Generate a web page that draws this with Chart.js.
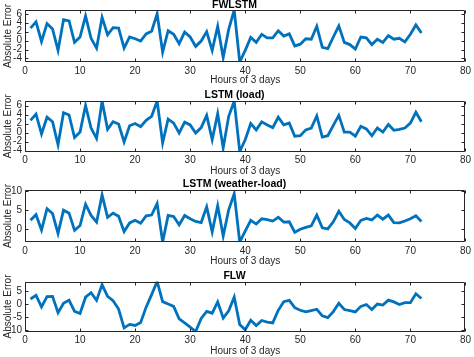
<!DOCTYPE html>
<html><head><meta charset="utf-8">
<script src="https://cdn.jsdelivr.net/npm/chart.js@4/dist/chart.umd.min.js"></script>
<style>
html,body{margin:0;padding:0;background:#fff;}
#wrap{position:relative;width:474px;height:357px;overflow:hidden;}
canvas{position:absolute;left:0;}
</style></head>
<body><div id="wrap">
<canvas id="c1" width="474" height="87" style="top:0px"></canvas>
<canvas id="c2" width="474" height="91" style="top:87px"></canvas>
<canvas id="c3" width="474" height="90" style="top:178px"></canvas>
<canvas id="c4" width="474" height="89" style="top:268px"></canvas>
</div>
<script>
const hours = Array.from({length:72},(_, i)=>i+1);
const titles = ["FWLSTM","LSTM (load)","LSTM (weather-load)","FLW"];
const xLabel = "Hours of 3 days";
const yLabel = "Absolute Error";
const xTicks = [0,10,20,30,40,50,60,70,80];

const fwlstm = [2.8,4.2,-0.2,3.8,2.6,-2.2,4.7,4.4,-0.4,0.8,5.5,0.5,-1.7,5.2,1.3,2.9,2.8,-1.7,0.8,0.4,
  -0.1,1.5,2.1,6.0,-2.6,2.2,1.4,-0.7,1.9,0.8,-1.3,-0.1,2.0,-2.2,3.2,-3.8,2.5,6.85,-4.8,-2.2,
  0.7,-0.4,1.4,0.6,0.6,2.2,1.0,1.5,-1.2,-0.8,0.4,0.3,3.2,-1.5,-1.8,0.8,3.3,-0.4,-0.9,-1.9,
  0.8,0.6,-0.9,0.3,-0.4,1.1,0.3,0.5,-0.3,1.4,3.5,1.7];
const lstmLoad = [2.7,4.1,-0.3,3.4,2.4,-2.7,4.4,3.9,-1.1,0.1,6.0,1.0,-1.3,7.0,0.7,2.4,1.9,-2.1,1.5,2.0,
  1.3,2.7,3.6,7.0,-2.3,3.0,2.1,-0.1,2.3,1.7,-0.1,1.1,3.8,-1.6,4.2,-3.4,3.6,7.0,-4.2,-1.6,
  2.0,0.6,2.4,1.7,1.1,3.4,1.7,2.1,-0.8,-0.7,0.6,1.0,3.7,-1.0,-0.7,1.6,3.8,0.1,0.1,-0.8,
  1.4,0.8,-0.7,1.0,0.1,1.8,0.5,0.7,1.0,2.1,4.5,2.4];
const lstmWeatherLoad = [2.3,3.8,-0.3,5.4,4.1,-1.2,5.0,4.2,-0.4,0.9,6.6,3.6,1.8,9.1,3.1,4.2,3.4,-0.7,1.6,2.3,
  1.5,3.5,3.7,6.8,-3.5,3.6,3.3,1.1,3.6,2.7,2.0,1.7,5.9,-0.8,6.2,-1.9,5.1,9.4,-3.5,-0.6,
  2.3,1.3,2.7,2.5,2.1,3.1,1.8,1.9,-0.9,-0.1,0.4,0.8,3.7,0.3,0.0,1.9,4.7,2.5,1.6,0.1,
  2.3,2.8,2.4,3.7,2.6,3.7,1.7,1.6,2.1,2.7,3.5,2.0];
const flw = [2.0,3.4,-1.0,2.9,3.0,-3.2,0.4,1.6,-2.7,-3.5,2.7,4.4,1.5,7.5,3.0,1.4,-1.8,-9.0,-7.7,-8.1,
  -7.0,-1.1,3.7,8.7,1.0,0.1,-0.8,-5.6,-7.1,-8.7,-10.4,-5.4,-2.7,-3.4,0.9,-5.3,-2.5,2.7,-7.7,-9.7,
  -6.1,-8.1,-6.2,-6.8,-7.1,-2.3,1.0,1.5,-1.3,-2.3,-2.9,-2.4,-1.9,-4.4,-5.1,-2.8,0.4,-2.0,-2.4,-2.9,
  -0.8,-0.1,-2.0,0.1,-0.3,1.6,0.9,-0.1,0.6,0.6,4.0,2.2];

const yTicks1 = [-4,-2,0,2,4,6];
const yTicks2 = [-4,-2,0,2,4,6];
const yTicks3 = [0,5,10];
const yTicks4 = [-10,-5,0,5];

const series = [fwlstm,lstmLoad,lstmWeatherLoad,flw];
const yTickSets = [yTicks1,yTicks2,yTicks3,yTicks4];
const yRanges = [[-4.8,6.85],[-4.2,7.0],[-3.5,10.4],[-10.4,8.7]];
// layout per panel: title padding top, title lineHeight (px), x-axis height, x-title bottom pad
const layouts = [
  {tp:0, lh:10, xh:25, xpad:1},
  {tp:2, lh:12, xh:26.5, xpad:1},
  {tp:1, lh:11, xh:26, xpad:1},
  {tp:2, lh:11.5, xh:25.5, xpad:0}
];

const FONT = "'Liberation Sans', Arial, Helvetica, sans-serif";
const AX = '#262626';

const boxTicks = {
  id:'boxTicks',
  afterDraw(chart){
    const {ctx, chartArea:a, scales} = chart;
    ctx.save();
    ctx.strokeStyle = AX;
    ctx.lineWidth = 1;
    ctx.beginPath();
    const L = Math.round(a.left)+0.5, R = Math.round(a.right)-0.5, T = Math.round(a.top)+0.5, B = Math.round(a.bottom)-0.5;
    ctx.rect(L, T, R-L, B-T);
    const tl = 3;
    scales.x.ticks.forEach(t=>{
      const px = Math.round(scales.x.getPixelForValue(t.value))+0.5;
      ctx.moveTo(px,B); ctx.lineTo(px,B-tl);
      ctx.moveTo(px,T); ctx.lineTo(px,T+tl);
    });
    scales.y.ticks.forEach(t=>{
      const py = Math.round(scales.y.getPixelForValue(t.value))+0.5;
      ctx.moveTo(L,py); ctx.lineTo(L+tl,py);
      ctx.moveTo(R,py); ctx.lineTo(R-tl,py);
    });
    ctx.stroke();
    ctx.restore();
  }
};

series.forEach((vals, i)=>{
  const lay = layouts[i];
  new Chart(document.getElementById('c'+(i+1)), {
    type:'line',
    data:{ labels: hours, datasets:[{
      data: vals.map((v,k)=>({x:hours[k], y:v})),
      borderColor:'#0072BD', borderWidth:2.8, pointRadius:0, tension:0, fill:false,
      borderJoinStyle:'miter'
    }]},
    options:{
      responsive:false, animation:false, devicePixelRatio:1,
      layout:{padding:{left:0,right:5,top:0,bottom:0}},
      plugins:{
        legend:{display:false}, tooltip:{enabled:false},
        title:{display:true, text:titles[i], color:'#000',
          font:{family:FONT, size:10.5, weight:'bold', lineHeight: lay.lh/10.5},
          padding:{top:lay.tp, bottom:0}}
      },
      scales:{
        x:{type:'linear', min:0, max:80,
          afterBuildTicks: s=>{ s.ticks = xTicks.map(v=>({value:v})); },
          afterFit: s=>{ s.height = lay.xh; },
          grid:{display:false, drawTicks:false}, border:{display:false},
          ticks:{color:AX, font:{family:FONT,size:10}, padding:3, maxRotation:0, autoSkip:false},
          title:{display:true, text:xLabel, color:AX, font:{family:FONT,size:10,lineHeight:1.2}, padding:{top:0,bottom:lay.xpad}}
        },
        y:{min:yRanges[i][0], max:yRanges[i][1],
          afterBuildTicks: s=>{ s.ticks = yTickSets[i].map(v=>({value:v})); },
          afterFit: s=>{ s.width = 25; },
          grid:{display:false, drawTicks:false}, border:{display:false},
          ticks:{color:AX, font:{family:FONT,size:10}, padding:3, autoSkip:false},
          title:{display:true, text:yLabel, color:AX, font:{family:FONT,size:10,lineHeight:1.2}, padding:{top:2,bottom:0}}
        }
      }
    },
    plugins:[boxTicks]
  });
});
</script>
</body></html>
